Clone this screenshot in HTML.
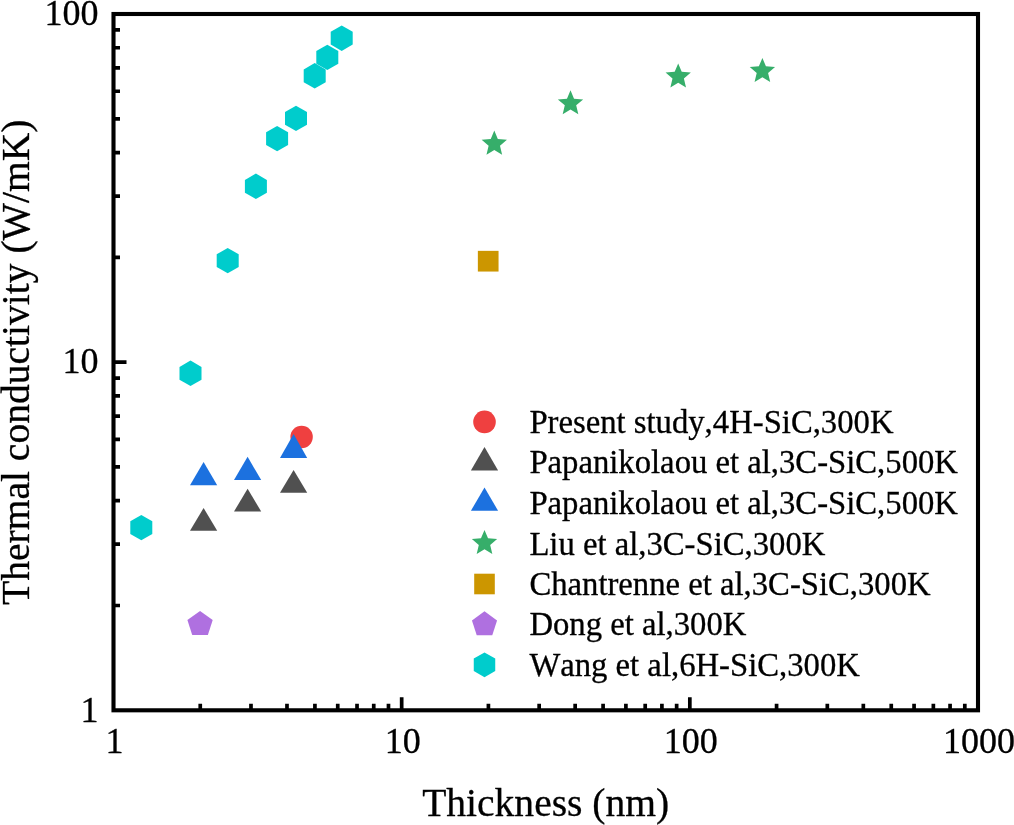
<!DOCTYPE html>
<html><head><meta charset="utf-8"><title>Thermal conductivity vs thickness</title>
<style>
html,body{margin:0;padding:0;background:#fff;width:1014px;height:825px;overflow:hidden}
svg{display:block}
text{font-family:"Liberation Serif","Times New Roman",serif;font-kerning:none;fill:#000;stroke:#000;stroke-width:0.3px}
.lg{font-size:32.7px}
.tl{font-size:36px}
.al{font-size:39.55px}
</style></head><body>
<svg width="1014" height="825" viewBox="0 0 1014 825">
<path d="M200.25 710.30V703.80 M250.99 710.30V703.80 M286.99 710.30V703.80 M314.92 710.30V703.80 M337.74 710.30V703.80 M357.03 710.30V703.80 M373.74 710.30V703.80 M388.48 710.30V703.80 M401.67 710.30V697.30 M488.41 710.30V703.80 M539.16 710.30V703.80 M575.16 710.30V703.80 M603.09 710.30V703.80 M625.90 710.30V703.80 M645.20 710.30V703.80 M661.91 710.30V703.80 M676.65 710.30V703.80 M689.83 710.30V697.30 M776.58 710.30V703.80 M827.32 710.30V703.80 M863.33 710.30V703.80 M891.25 710.30V703.80 M914.07 710.30V703.80 M933.36 710.30V703.80 M950.07 710.30V703.80 M964.81 710.30V703.80 M113.50 605.50H120.00 M113.50 544.19H120.00 M113.50 500.69H120.00 M113.50 466.95H120.00 M113.50 439.39H120.00 M113.50 416.08H120.00 M113.50 395.89H120.00 M113.50 378.08H120.00 M113.50 362.15H126.50 M113.50 257.35H120.00 M113.50 196.04H120.00 M113.50 152.54H120.00 M113.50 118.80H120.00 M113.50 91.24H120.00 M113.50 67.93H120.00 M113.50 47.74H120.00 M113.50 29.93H120.00" stroke="#000" stroke-width="3.7" fill="none"/>
<rect x="113.50" y="14.00" width="864.50" height="696.30" fill="none" stroke="#000" stroke-width="4.10"/>
<circle cx="301.60" cy="437.00" r="11.20" fill="#EF4040"/>
<polygon points="203.60,508.00 217.20,530.70 190.00,530.70" fill="#505050"/>
<polygon points="247.60,488.80 261.20,511.50 234.00,511.50" fill="#505050"/>
<polygon points="293.60,469.90 307.20,492.80 280.00,492.80" fill="#505050"/>
<polygon points="203.60,461.90 217.20,485.30 190.00,485.30" fill="#1C71DF"/>
<polygon points="247.60,456.80 261.20,480.00 234.00,480.00" fill="#1C71DF"/>
<polygon points="293.60,433.90 307.20,457.90 280.00,457.90" fill="#1C71DF"/>
<polygon points="494.30,130.60 497.82,139.06 506.95,139.79 499.99,145.75 502.12,154.66 494.30,149.89 486.48,154.66 488.61,145.75 481.65,139.79 490.78,139.06" fill="#36AE6A"/>
<polygon points="570.50,90.20 574.02,98.66 583.15,99.39 576.19,105.35 578.32,114.26 570.50,109.48 562.68,114.26 564.81,105.35 557.85,99.39 566.98,98.66" fill="#36AE6A"/>
<polygon points="678.20,63.40 681.72,71.86 690.85,72.59 683.89,78.55 686.02,87.46 678.20,82.69 670.38,87.46 672.51,78.55 665.55,72.59 674.68,71.86" fill="#36AE6A"/>
<polygon points="762.40,57.90 765.92,66.36 775.05,67.09 768.09,73.05 770.22,81.96 762.40,77.19 754.58,81.96 756.71,73.05 749.75,67.09 758.88,66.36" fill="#36AE6A"/>
<rect x="477.85" y="250.85" width="20.70" height="20.70" fill="#CC9600"/>
<polygon points="200.05,610.90 212.70,620.09 207.87,634.96 192.23,634.96 187.40,620.09" fill="#AF70E0"/>
<polygon points="141.30,514.90 152.30,521.25 152.30,533.95 141.30,540.30 130.30,533.95 130.30,521.25" fill="#00CCCC"/>
<polygon points="190.50,360.60 201.50,366.95 201.50,379.65 190.50,386.00 179.50,379.65 179.50,366.95" fill="#00CCCC"/>
<polygon points="227.70,247.90 238.70,254.25 238.70,266.95 227.70,273.30 216.70,266.95 216.70,254.25" fill="#00CCCC"/>
<polygon points="255.90,173.60 266.90,179.95 266.90,192.65 255.90,199.00 244.90,192.65 244.90,179.95" fill="#00CCCC"/>
<polygon points="277.10,125.90 288.10,132.25 288.10,144.95 277.10,151.30 266.10,144.95 266.10,132.25" fill="#00CCCC"/>
<polygon points="296.00,105.70 307.00,112.05 307.00,124.75 296.00,131.10 285.00,124.75 285.00,112.05" fill="#00CCCC"/>
<polygon points="314.70,63.10 325.70,69.45 325.70,82.15 314.70,88.50 303.70,82.15 303.70,69.45" fill="#00CCCC"/>
<polygon points="327.30,44.70 338.30,51.05 338.30,63.75 327.30,70.10 316.30,63.75 316.30,51.05" fill="#00CCCC"/>
<polygon points="341.70,25.50 352.70,31.85 352.70,44.55 341.70,50.90 330.70,44.55 330.70,31.85" fill="#00CCCC"/>
<circle cx="484.50" cy="421.90" r="11.30" fill="#EF4040"/>
<polygon points="484.50,446.90 498.10,470.60 470.90,470.60" fill="#505050"/>
<polygon points="484.50,487.60 498.10,510.80 470.90,510.80" fill="#1C71DF"/>
<polygon points="484.50,529.90 488.02,538.36 497.15,539.09 490.19,545.05 492.32,553.96 484.50,549.18 476.68,553.96 478.81,545.05 471.85,539.09 480.98,538.36" fill="#36AE6A"/>
<rect x="474.20" y="573.70" width="20.60" height="20.60" fill="#CC9600"/>
<polygon points="484.50,611.30 497.05,620.42 492.26,635.18 476.74,635.18 471.95,620.42" fill="#AF70E0"/>
<polygon points="484.50,652.40 495.24,658.60 495.24,671.00 484.50,677.20 473.76,671.00 473.76,658.60" fill="#00CCCC"/>
<text x="529.4" y="432.8" class="lg">Present study,4H-SiC,300K</text>
<text x="529.4" y="473.1" class="lg">Papanikolaou et al,3C-SiC,500K</text>
<text x="529.4" y="513.6" class="lg">Papanikolaou et al,3C-SiC,500K</text>
<text x="529.4" y="555.0" class="lg">Liu et al,3C-SiC,300K</text>
<text x="529.4" y="594.6" class="lg">Chantrenne et al,3C-SiC,300K</text>
<text x="529.4" y="635.0" class="lg">Dong et al,300K</text>
<text x="529.4" y="675.6" class="lg">Wang et al,6H-SiC,300K</text>
<text x="114.5" y="753.3" class="tl" text-anchor="middle">1</text>
<text x="402.7" y="753.3" class="tl" text-anchor="middle">10</text>
<text x="690.8" y="753.3" class="tl" text-anchor="middle">100</text>
<text x="979.0" y="753.3" class="tl" text-anchor="middle">1000</text>
<text x="98.5" y="721.5" class="tl" text-anchor="end">1</text>
<text x="98.5" y="373.3" class="tl" text-anchor="end">10</text>
<text x="98.5" y="25.2" class="tl" text-anchor="end">100</text>
<text x="545.7" y="816.4" class="al" text-anchor="middle">Thickness (nm)</text>
<text transform="translate(29.1,362.3) rotate(-90)" class="al" text-anchor="middle">Thermal conductivity (W/mK)</text>
</svg>
</body></html>
